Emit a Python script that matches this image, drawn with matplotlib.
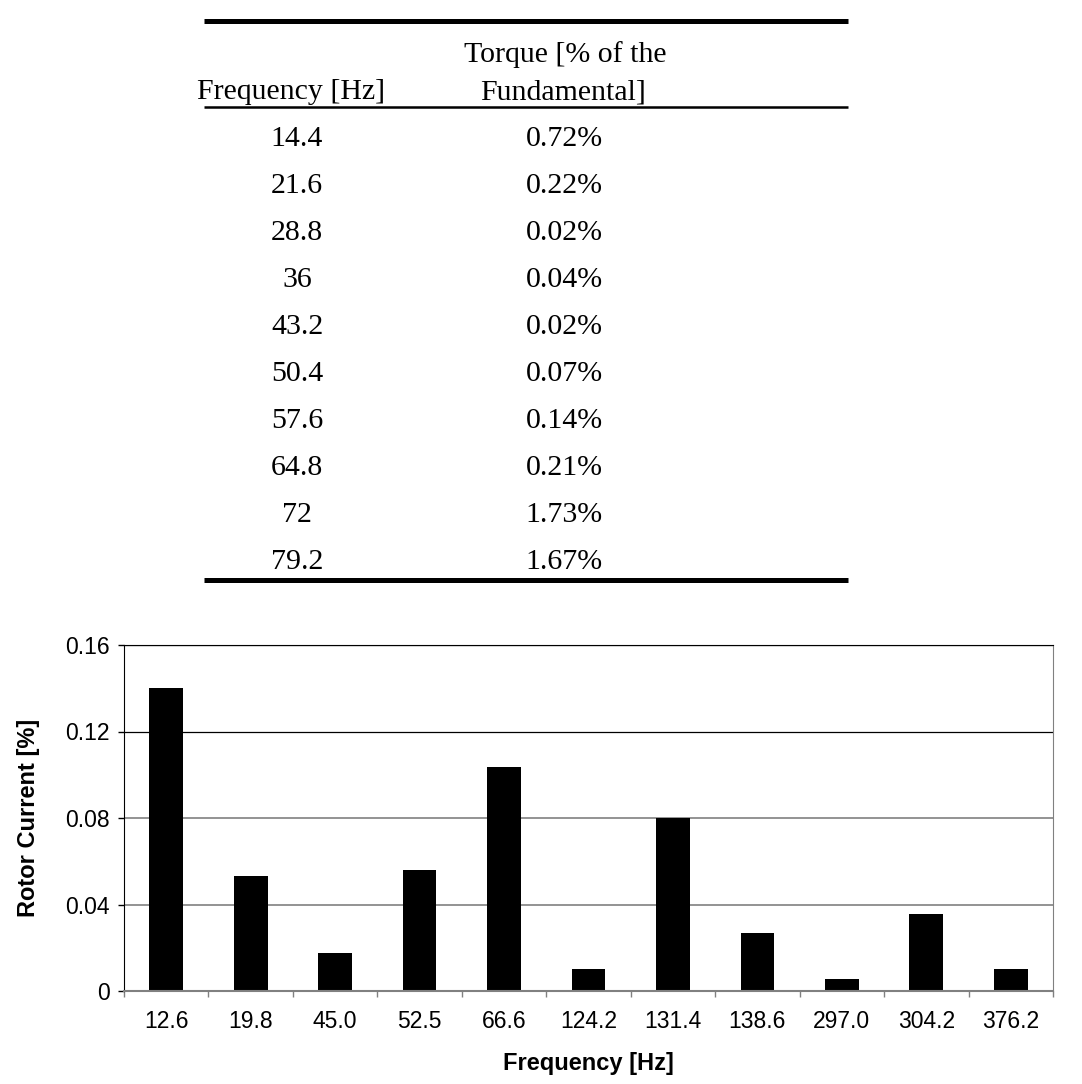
import matplotlib
matplotlib.use('Agg')
import matplotlib.pyplot as plt
import numpy as np

# Data input
table_freq = ['14.4', '21.6', '28.8', '36', '43.2', '50.4', '57.6', '64.8', '72', '79.2']
table_torque = ['0.72%', '0.22%', '0.02%', '0.04%', '0.02%', '0.07%', '0.14%', '0.21%', '1.73%', '1.67%']

freq_labels = ['12.6', '19.8', '45.0', '52.5', '66.6', '124.2', '131.4', '138.6', '297.0', '304.2', '376.2']
rotor_current = [0.140, 0.053, 0.0175, 0.056, 0.1035, 0.010, 0.080, 0.027, 0.0055, 0.0355, 0.010]

y_ticks = [0, 0.04, 0.08, 0.12, 0.16]
y_ticklabels = ['0', '0.04', '0.08', '0.12', '0.16']

W, H = 1082, 1084
fig = plt.figure(figsize=(W / 100, H / 100), dpi=100)

# Table on top (drawn in pixel coordinates of the figure)
tab = fig.add_axes([0, 0, 1, 1])
tab.set_xlim(0, W)
tab.set_ylim(H, 0)
tab.axis('off')
serif = {'family': 'Liberation Serif', 'size': 21.5}

tab.plot([204, 848], [20.5, 20.5], color='black', lw=3.6, solid_capstyle='butt')
tab.plot([204, 848], [107, 107], color='black', lw=1.8, solid_capstyle='butt')
tab.plot([204, 848], [580, 580], color='black', lw=3.6, solid_capstyle='butt')

tab.text(291, 99, 'Frequency [Hz]', ha='center', va='baseline', fontdict=serif)
tab.text(565, 62, 'Torque [% of the', ha='center', va='baseline', fontdict=serif)
tab.text(563, 99, 'Fundamental]', ha='center', va='baseline', fontdict=serif)

for i, (f, t) in enumerate(zip(table_freq, table_torque)):
    yb = 146 + 47 * i
    tab.text(297, yb, f, ha='center', va='baseline', fontdict=serif)
    tab.text(564, yb, t, ha='center', va='baseline', fontdict=serif)

# Bar chart
plt.rcParams['font.family'] = 'Liberation Sans'
ax = fig.add_axes([124 / W, 1 - 991 / H, (1053 - 124) / W, (991 - 645) / H])
x = np.arange(len(freq_labels))
ax.bar(x, rotor_current, width=0.4, color='black', zorder=3)

ax.set_xlim(-0.5, len(freq_labels) - 0.5)
ax.set_ylim(0, 0.16)
ax.set_yticks(y_ticks)
ax.set_yticklabels(y_ticklabels, fontsize=16.5)
ax.tick_params(axis='y', direction='out', length=4.3, width=1, color='black', pad=6)

ax.set_xticks(np.arange(len(freq_labels) + 1) - 0.5)
ax.set_xticklabels([])
ax.tick_params(axis='x', which='major', direction='out', length=4.3, width=1, color='#808080')
ax.set_xticks(x, minor=True)
ax.set_xticklabels(freq_labels, minor=True, fontsize=16.5)
ax.tick_params(axis='x', which='minor', length=0, pad=14)

ax.yaxis.grid(True, zorder=0)
grid_colors = ['#808080', '#808080', '#808080', 'black', 'black']
for gl, c in zip(ax.get_ygridlines(), grid_colors):
    gl.set_color(c)
    gl.set_linewidth(1.2 if c != 'black' else 0.9)

ax.spines['left'].set_color('black')
ax.spines['top'].set_color('black')
ax.spines['right'].set_color('#808080')
ax.spines['bottom'].set_color('#808080')
ax.spines['bottom'].set_linewidth(1.5)
ax.spines['bottom'].set_zorder(4)

ax.set_ylabel('Rotor Current [%]', fontsize=17, fontweight='bold')
ax.yaxis.set_label_coords(-0.09, 0.5)
ax.set_xlabel('Frequency [Hz]', fontsize=17, fontweight='bold')
ax.xaxis.set_label_coords(0.5, -0.175)

fig.savefig('out.png', dpi=100)
